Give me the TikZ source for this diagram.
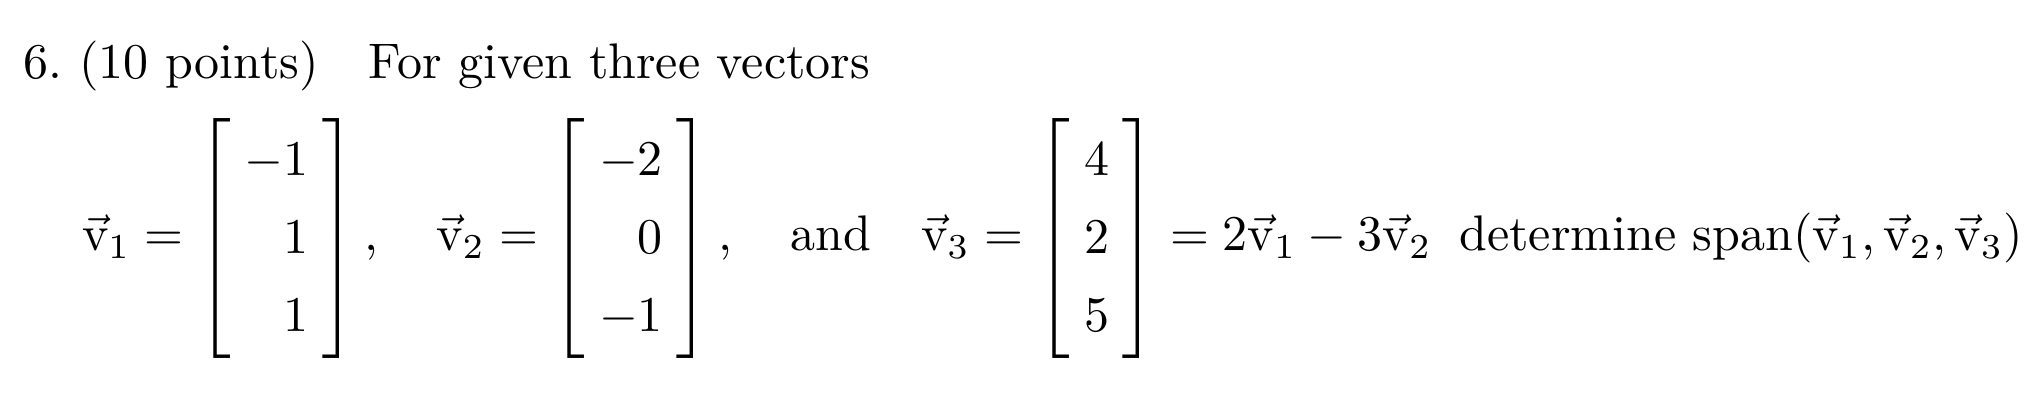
\documentclass[tikz,border=0pt]{standalone}
\usepackage{amsmath}
\begin{document}
\begin{tikzpicture}[x=1pt,y=1pt]
\useasboundingbox (0,0) rectangle (405.2,-80.8);
\node[anchor=base west,inner sep=0,font=\normalsize] (head) at (4.6,-15.6) {6.\ (10 points)\quad For given three vectors};
\node[anchor=west,inner sep=0,font=\normalsize] (eq) at (16.2,-47.6) {$\renewcommand{\arraystretch}{1.3}
\vec{\mathrm v}_1=\begin{bmatrix}\;-1\;\\ \phantom{-}1\\ \phantom{-}1\end{bmatrix},\quad
\vec{\mathrm v}_2=\begin{bmatrix}\;-2\;\\ \phantom{-}0\\ -1\end{bmatrix},\quad\text{and}\quad
\vec{\mathrm v}_3=\begin{bmatrix}\;4\;\\ 2\\ 5\end{bmatrix}=2\vec{\mathrm v}_1-3\vec{\mathrm v}_2\;\;\text{determine span}(\vec{\mathrm v}_1,\vec{\mathrm v}_2,\vec{\mathrm v}_3).$};
\end{tikzpicture}
\end{document}
